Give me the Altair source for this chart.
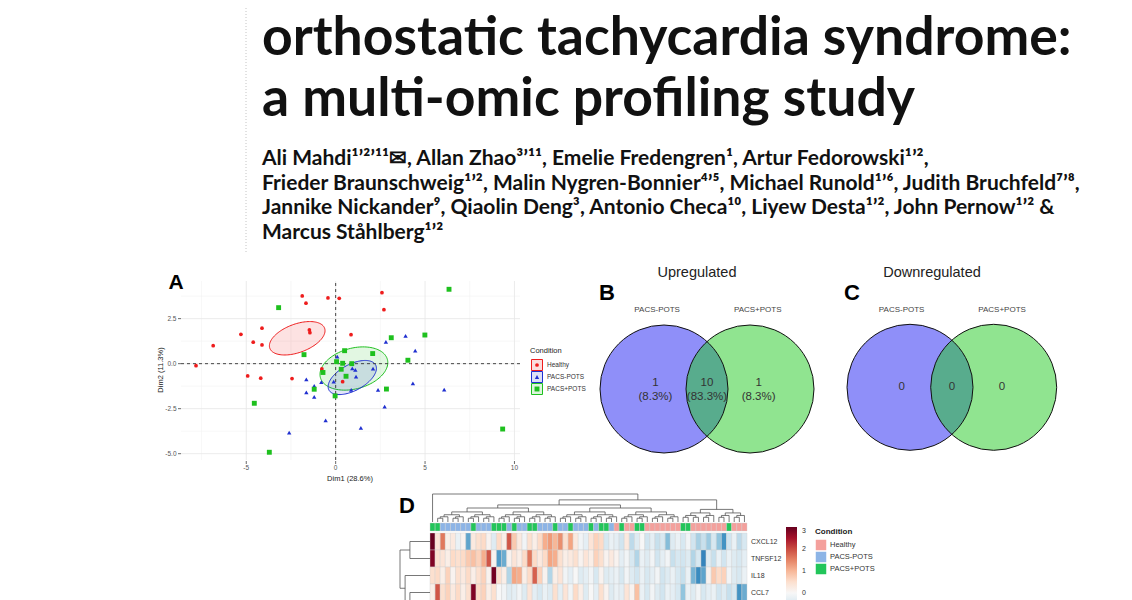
import altair as alt
import numpy as np
import pandas as pd

M = 8
def P(v):
    return v - M

W, H = 1116, 592
FF = "Liberation Sans"

# ---------------- header text ----------------
title_lines = ["orthostatic tachycardia syndrome:", "a multi-omic profiling study"]
author_lines = [
    "Ali Mahdi¹ʼ²ʼ¹¹✉, Allan Zhao³ʼ¹¹, Emelie Fredengren¹, Artur Fedorowski¹ʼ²,",
    "Frieder Braunschweig¹ʼ², Malin Nygren-Bonnier⁴ʼ⁵, Michael Runold¹ʼ⁶, Judith Bruchfeld⁷ʼ⁸,",
    "Jannike Nickander⁹, Qiaolin Deng³, Antonio Checa¹⁰, Liyew Desta¹ʼ², John Pernow¹ʼ² &",
    "Marcus Ståhlberg¹ʼ²",
]

# ---------------- PCA (panel A) ----------------
conditions = ["Healthy", "PACS-POTS", "PACS+POTS"]
cond_colors = ["#EE1C1C", "#1F2FD0", "#1EC01E"]
cond_light = ["#FBDCDC", "#DCE0F6", "#DDF5DD"]
cond_shapes = ["circle", "triangle-up", "square"]
cond_sizes = [14, 24, 15]

healthy_x = [-7.81, -6.85, -5.30, -4.61, -4.12, -4.12, -4.92, -4.19, -2.44, -1.87,
             -1.66, -1.47, -1.44, -0.43, 0.20, 0.86, -0.77, 0.39, 2.59, 2.70]
healthy_y = [-0.11, 1.00, 1.63, 1.19, 1.97, 1.04, -0.68, -0.81, -0.83, 3.76,
             3.36, 1.87, 1.72, 3.65, 3.63, 1.61, -0.29, -1.00, 3.94, 3.00]
pots_x = [0.09, 2.81, 3.91, 4.45, 2.09, 1.10, 1.14, 0.87, 2.37, 4.32, 6.07,
          2.74, 1.41, -1.64, -1.20, -0.80, -0.11, -1.64, -1.20, -0.56, -2.60, 0.93]
pots_y = [0.39, 1.21, 1.54, 0.72, -0.28, -0.35, -0.72, -1.46, -1.46, -1.09, -1.44,
          -2.39, -3.57, -0.87, -1.24, -1.02, -1.00, -1.59, -1.85, -3.15, -3.83, -0.26]
ppots_x = [-3.19, -1.77, 0.50, 6.34, 3.11, 4.99, 2.07, 4.04, 0.90, 0.05,
           0.39, 0.31, -0.71, 0.58, -1.20, -0.03, -4.55, -3.71, 2.84, 9.34]
ppots_y = [3.11, 0.50, 0.72, 4.13, 1.44, 1.59, 0.56, 0.19, 0.00, 0.11,
           0.02, -0.31, -0.49, -0.70, -1.42, -1.79, -2.20, -4.92, -1.41, -3.63]

# ellipse parameters (centre x, centre y, semi-axis a, semi-axis b, angle deg)
ell_cond = ["Healthy", "PACS+POTS", "PACS-POTS"]
ell_cx = [-2.15, 1.02, 0.93]
ell_cy = [1.41, -0.27, -0.77]
ell_a = [1.63, 1.94, 1.48]
ell_b = [0.79, 1.13, 0.73]
ell_ang = [20, 15, 28]

x_major = [-5, 0, 5, 10]
x_major_lab = ["-5", "0", "5", "10"]
x_minor = [-7.5, -2.5, 2.5, 7.5]
y_major = [-5, -2.5, 0, 2.5]
y_major_lab = ["-5.0", "-2.5", "0.0", "2.5"]
y_minor = [-3.75, -1.25, 1.25, 3.75]

PCA_XD = [-8.65, 10.31]
PCA_YD = [-5.35, 4.59]

# ---------------- Venn (panels B, C) ----------------
venn_sets = ["PACS-POTS", "PACS+POTS"]
venn_pos = [0, 1]
venn_fill = ["#1F1FF3", "#22C922"]
region_pos = [-0.1, 0.5, 1.1]
up_counts = ["1", "10", "1"]
up_pct = ["(8.3%)", "(83.3%)", "(8.3%)"]
down_counts = ["0", "0", "0"]

# ---------------- Heatmap (panel D) ----------------
genes = ["CXCL12", "TNFSF12", "IL18", "CCL7"]
col_codes = "GGBBBBBBGBBBGGGBGBBGGBBBGBBGBBBGBGGBRGRRGGRRRRRRRGGRRRRRRRGRRR"
code_name = {"R": "Healthy", "B": "PACS-POTS", "G": "PACS+POTS"}
ann_colors = ["#F4A09C", "#8CB4E6", "#22C55A"]
cxcl12 = [3.0, 0.4, 1.6, 0.2, 0.3, -0.2, 0.1, -1.6, 0.3, 0.5, 0.6, 0.1, -0.4, 0.6, 0.2, 1.9,
          0.8, 0.3, -0.1, 0.5, 0.2, 0.6, 1.1, 1.3, 1.0, 1.4, 0.5, 1.2, 0.3, -0.1, -0.3, 0.4,
          0.7, 0.6, -0.5, -0.2, -0.3, -0.6, 0.3, -0.8, -0.4, 0.0, -0.6, -0.3, -0.7, -0.5,
          -1.3, -0.4, -0.2, -0.5, -0.1, -0.6, -1.0, -0.7, -1.1, -0.5, -1.2, -1.8, -0.6, -0.2, -0.8, -0.5]
tnfsf12 = [2.8, 0.5, 0.4, 0.2, 0.6, 0.5, 0.6, 0.8, 0.9, 0.7, 1.1, 1.9, 0.1, -1.7, -1.5, 0.1,
           0.4, 0.2, 0.6, 1.6, 0.6, 0.3, 0.6, 1.2, 1.1, 0.5, 0.2, 0.3, 0.5, 0.1, 0.4, 0.2,
           0.7, 0.5, 0.1, 0.3, 0.1, -0.3, -0.1, -0.5, -0.9, -0.2, -0.4, -0.1, -0.6, -0.3,
           -0.1, -0.7, -0.5, -0.6, -0.4, -0.9, -0.5, -2.0, -0.4, -0.7, -0.2, -0.6, -0.2, -0.4, -0.5, -0.3]
il18 = [0.5, 0.6, 0.2, 0.7, 0.1, 0.5, 0.3, 0.6, 0.2, 0.5, 0.7, 0.1, 2.9, 0.5, 0.2, -0.9,
        1.2, 1.1, 0.2, 0.6, 1.8, 0.7, 0.1, -0.9, 0.2, 0.4, -0.1, -0.3, 0.0, -0.4, -0.3, -0.1,
        -0.5, 0.1, -0.4, -0.3, -0.2, -0.5, -0.1, -0.4, -0.6, -0.2, -0.5, -0.3, -0.1, -0.6,
        -0.4, -0.2, -0.5, -0.7, -0.2, -1.4, -1.9, -1.6, 0.1, 0.8, 0.6, 0.7, -0.1, -0.4, -0.5, -0.2]
ccl7 = [0.2, 1.9, 0.5, 0.7, 0.3, 0.6, 0.2, 0.5, 2.8, 0.6, 0.7, 0.2, 0.5, 0.0, -0.1, -0.4,
        -0.3, -0.1, -0.4, 0.4, -0.3, -0.5, -0.2, -0.4, 0.5, -0.3, 0.4, -0.1, 0.6, 0.2, -0.4, 0.0,
        -0.3, 0.5, 0.1, -0.4, -0.2, -0.3, 0.4, 0.1, 0.9, -0.2, -0.5, -0.1, -0.4, -0.6,
        -0.2, -0.3, -0.5, -1.2, -0.2, -0.4, -0.1, -0.5, -0.3, -0.2, -0.6, -0.4, -0.7, -0.5, -1.8, -1.5]
heat_rows = [cxcl12, tnfsf12, il18, ccl7]
RDBU = ["#053061", "#2166ac", "#4393c3", "#92c5de", "#d1e5f0", "#f7f7f7",
        "#fddbc7", "#f4a582", "#d6604d", "#b2182b", "#67001f"]
legend_vals = [0, 1, 2, 3]

# row dendrogram segments (height, row index)
rd_h1 = [0, 0, 0.67, 0.67, 0, 0, 0, 0.67, 0.67, 0.83, 0.83, 1.0]
rd_h2 = [0.67, 0.67, 0.67, 1.0, 0.83, 0.67, 0.67, 0.67, 0.83, 0.83, 1.0, 1.0]
rd_r1 = [0, 1, 0, 0.5, 2, 3, 4, 3, 3.5, 2, 2.75, 0.5]
rd_r2 = [0, 1, 1, 0.5, 2, 3, 4, 4, 3.5, 3.5, 2.75, 2.75]

# ======================================================================
layers = []
one = pd.DataFrame({"a": [0]})


def txt(s, x, y, size, font=FF, **kw):
    return alt.Chart(pd.DataFrame({"t": [s]})).mark_text(
        fontSize=size, font=font, **kw
    ).encode(x=alt.value(P(x)), y=alt.value(P(y)), text="t:N")


# header
layers.append(alt.Chart(one).mark_rule(color="#c4c4c4", strokeDash=[1, 2], strokeWidth=1).encode(
    x=alt.value(P(246)), y=alt.value(0), y2=alt.value(P(252))))
layers.append(alt.Chart(pd.DataFrame({"i": [0, 1], "t": title_lines})).mark_text(
    align="left", baseline="alphabetic", font="Lato", fontSize=53.5, fontWeight="bold", color="#111"
).encode(x=alt.value(P(262)),
         y=alt.Y("i:Q", scale=alt.Scale(domain=[0, 1], range=[P(55), P(116)], nice=False, zero=False), axis=None),
         text="t:N"))
layers.append(alt.Chart(pd.DataFrame({"i": [0, 1, 2, 3], "t": author_lines})).mark_text(
    align="left", baseline="alphabetic", font="Lato", fontSize=21, fontWeight="bold", color="#111"
).encode(x=alt.value(P(262)),
         y=alt.Y("i:Q", scale=alt.Scale(domain=[0, 3], range=[P(165), P(239)], nice=False, zero=False), axis=None),
         text="t:N"))

# ---------------- PCA ----------------
xs = alt.Scale(domain=PCA_XD, range=[P(181), P(520)], nice=False, zero=False)
ys = alt.Scale(domain=PCA_YD, range=[P(460), P(281)], nice=False, zero=False)


def vgrid(vals, color, w):
    df = pd.DataFrame({"v": vals, "lo": PCA_YD[0], "hi": PCA_YD[1]})
    return alt.Chart(df).mark_rule(color=color, strokeWidth=w).encode(
        x=alt.X("v:Q", scale=xs, axis=None),
        y=alt.Y("lo:Q", scale=ys, axis=None), y2="hi:Q")


def hgrid(vals, color, w):
    df = pd.DataFrame({"v": vals, "lo": PCA_XD[0], "hi": PCA_XD[1]})
    return alt.Chart(df).mark_rule(color=color, strokeWidth=w).encode(
        y=alt.Y("v:Q", scale=ys, axis=None),
        x=alt.X("lo:Q", scale=xs, axis=None), x2="hi:Q")


layers += [vgrid(x_minor, "#f2f2f2", 0.6), hgrid(y_minor, "#f2f2f2", 0.6),
           vgrid(x_major, "#e6e6e6", 0.8), hgrid(y_major, "#e6e6e6", 0.8)]

for c, cx, cy, a, b, ang in zip(ell_cond, ell_cx, ell_cy, ell_a, ell_b, ell_ang):
    t = np.linspace(0, 2 * np.pi, 121)
    th = np.deg2rad(ang)
    ex = cx + a * np.cos(t) * np.cos(th) - b * np.sin(t) * np.sin(th)
    ey = cy + a * np.cos(t) * np.sin(th) + b * np.sin(t) * np.cos(th)
    col = cond_colors[conditions.index(c)]
    layers.append(alt.Chart(pd.DataFrame({"ex": ex, "ey": ey, "k": np.arange(len(t))})).mark_line(
        stroke=col, strokeWidth=1, fill=col, fillOpacity=0.13
    ).encode(x=alt.X("ex:Q", scale=xs, axis=None), y=alt.Y("ey:Q", scale=ys, axis=None), order="k:Q"))

# dashed zero lines
layers.append(alt.Chart(pd.DataFrame({"v": [0], "lo": [PCA_YD[0]], "hi": [PCA_YD[1]]})).mark_rule(
    color="#333", strokeDash=[3, 3], strokeWidth=0.9).encode(
    x=alt.X("v:Q", scale=xs, axis=None), y=alt.Y("lo:Q", scale=ys, axis=None), y2="hi:Q"))
layers.append(alt.Chart(pd.DataFrame({"v": [0], "lo": [PCA_XD[0]], "hi": [PCA_XD[1]]})).mark_rule(
    color="#333", strokeDash=[3, 3], strokeWidth=0.9).encode(
    y=alt.Y("v:Q", scale=ys, axis=None), x=alt.X("lo:Q", scale=xs, axis=None), x2="hi:Q"))

pca_df = pd.DataFrame({
    "x": healthy_x + pots_x + ppots_x,
    "y": healthy_y + pots_y + ppots_y,
    "cond": ["Healthy"] * len(healthy_x) + ["PACS-POTS"] * len(pots_x) + ["PACS+POTS"] * len(ppots_x),
})
layers.append(alt.Chart(pca_df).mark_point(filled=True, opacity=1).encode(
    x=alt.X("x:Q", scale=xs, axis=None), y=alt.Y("y:Q", scale=ys, axis=None),
    color=alt.Color("cond:N", scale=alt.Scale(domain=conditions, range=cond_colors), legend=None),
    shape=alt.Shape("cond:N", scale=alt.Scale(domain=conditions, range=cond_shapes), legend=None),
    size=alt.Size("cond:N", scale=alt.Scale(domain=conditions, range=cond_sizes), legend=None)))

# axes ticks & labels
layers.append(alt.Chart(pd.DataFrame({"v": x_major})).mark_rule(color="#444", strokeWidth=0.8).encode(
    x=alt.X("v:Q", scale=xs, axis=None), y=alt.value(P(461)), y2=alt.value(P(464))))
layers.append(alt.Chart(pd.DataFrame({"v": x_major, "t": x_major_lab})).mark_text(
    baseline="top", fontSize=6.5, font=FF, color="#555").encode(
    x=alt.X("v:Q", scale=xs, axis=None), y=alt.value(P(465)), text="t:N"))
layers.append(alt.Chart(pd.DataFrame({"v": y_major})).mark_rule(color="#444", strokeWidth=0.8).encode(
    y=alt.Y("v:Q", scale=ys, axis=None), x=alt.value(P(178)), x2=alt.value(P(181))))
layers.append(alt.Chart(pd.DataFrame({"v": y_major, "t": y_major_lab})).mark_text(
    align="right", baseline="middle", fontSize=6.5, font=FF, color="#555").encode(
    y=alt.Y("v:Q", scale=ys, axis=None), x=alt.value(P(176.5)), text="t:N"))
layers.append(txt("Dim1 (28.6%)", 350, 479, 7.5, color="#222", baseline="middle"))
layers.append(txt("Dim2 (11.3%)", 161, 370, 7.5, color="#222", baseline="middle", angle=270))
layers.append(txt("A", 176, 283, 21, fontWeight="bold", color="#000", baseline="middle"))

# PCA legend
leg_df = pd.DataFrame({"cond": conditions, "i": [0, 1, 2]})
leg_y = alt.Y("i:Q", scale=alt.Scale(domain=[0, 2], range=[P(365), P(389)], nice=False, zero=False), axis=None)
layers.append(txt("Condition", 530, 351, 7.5, color="#222", align="left", baseline="middle"))
layers.append(alt.Chart(leg_df).mark_point(shape="square", filled=True, opacity=1, size=121, strokeWidth=1).encode(
    x=alt.value(P(537)), y=leg_y,
    fill=alt.Fill("cond:N", scale=alt.Scale(domain=conditions, range=cond_light), legend=None),
    stroke=alt.Stroke("cond:N", scale=alt.Scale(domain=conditions, range=cond_colors), legend=None)))
layers.append(alt.Chart(leg_df).mark_point(filled=True, opacity=1).encode(
    x=alt.value(P(537)), y=leg_y,
    color=alt.Color("cond:N", scale=alt.Scale(domain=conditions, range=cond_colors), legend=None),
    shape=alt.Shape("cond:N", scale=alt.Scale(domain=conditions, range=cond_shapes), legend=None),
    size=alt.Size("cond:N", scale=alt.Scale(domain=conditions, range=cond_sizes), legend=None)))
layers.append(alt.Chart(leg_df).mark_text(align="left", baseline="middle", fontSize=6.5, font=FF, color="#333").encode(
    x=alt.value(P(547)), y=leg_y, text="cond:N"))


# ---------------- Venn diagrams ----------------
def venn(cx0, cx1, cy, r, counts, pcts, title, title_x, letter, letter_x, lab_xs):
    vx = alt.Scale(domain=[0, 1], range=[P(cx0), P(cx1)], nice=False, zero=False)
    vy = alt.Scale(domain=[-1, 1], range=[P(cy + r), P(cy - r)], nice=False, zero=False)
    size = (2 * r) ** 2
    df = pd.DataFrame({"set": venn_sets, "x": venn_pos, "y": [0, 0]})
    out = []
    out.append(alt.Chart(df).mark_point(shape="circle", filled=True, opacity=1, fillOpacity=0.5,
                                        strokeOpacity=0, size=size).encode(
        x=alt.X("x:Q", scale=vx, axis=None), y=alt.Y("y:Q", scale=vy, axis=None),
        fill=alt.Fill("set:N", scale=alt.Scale(domain=venn_sets, range=venn_fill), legend=None)))
    out.append(alt.Chart(df).mark_point(shape="circle", filled=False, opacity=1, stroke="#111",
                                        strokeWidth=1, size=size).encode(
        x=alt.X("x:Q", scale=vx, axis=None), y=alt.Y("y:Q", scale=vy, axis=None)))
    if pcts is None:
        rdf = pd.DataFrame({"x": region_pos, "y": [0.0] * 3, "t": counts})
        out.append(alt.Chart(rdf).mark_text(fontSize=11.5, font=FF, color="#333", baseline="middle").encode(
            x=alt.X("x:Q", scale=vx, axis=None), y=alt.Y("y:Q", scale=vy, axis=None), text="t:N"))
    else:
        rdf = pd.DataFrame({"x": region_pos * 2, "y": [0.1] * 3 + [-0.13] * 3, "t": counts + pcts})
        out.append(alt.Chart(rdf).mark_text(fontSize=11.5, font=FF, color="#333", baseline="middle").encode(
            x=alt.X("x:Q", scale=vx, axis=None), y=alt.Y("y:Q", scale=vy, axis=None), text="t:N"))
    ldf = pd.DataFrame({"x": lab_xs, "y": [1.23, 1.23], "t": venn_sets})
    out.append(alt.Chart(ldf).mark_text(fontSize=8, font=FF, color="#444", baseline="middle").encode(
        x=alt.X("x:Q", scale=vx, axis=None), y=alt.Y("y:Q", scale=vy, axis=None), text="t:N"))
    out.append(txt(title, title_x, 273, 14.5, color="#222", baseline="middle"))
    out.append(txt(letter, letter_x, 293, 22, fontWeight="bold", color="#000", baseline="middle"))
    return out


layers += venn(664, 750, 389, 64, up_counts, up_pct, "Upregulated", 697, "B", 607, [-0.08, 1.09])
layers += venn(910, 993.7, 387.3, 63, down_counts, None, "Downregulated", 932, "C", 852, [-0.1, 1.1])

# ---------------- Heatmap ----------------
ncol = len(col_codes)
hx = alt.Scale(domain=list(range(ncol)), range=[P(430), P(747)], paddingInner=0, paddingOuter=0)
hy = alt.Scale(domain=genes, range=[P(533), P(533 + 17 * len(genes))], paddingInner=0, paddingOuter=0)
heat_df = pd.DataFrame([{"col": j, "gene": g, "v": row[j]}
                        for g, row in zip(genes, heat_rows) for j in range(ncol)])
layers.append(alt.Chart(heat_df).mark_rect(stroke="#cfcfcf", strokeWidth=0.4).encode(
    x=alt.X("col:O", scale=hx, axis=None), y=alt.Y("gene:N", scale=hy, axis=None),
    color=alt.Color("v:Q", scale=alt.Scale(domain=[-3, 3], range=RDBU, nice=False, zero=False),
                    legend=alt.Legend(orient="none", legendX=P(786), legendY=P(527), direction="vertical",
                                      gradientLength=132, gradientThickness=11, title=None,
                                      values=legend_vals, labelFontSize=7, labelFont=FF,
                                      labelColor="#333", gradientStrokeWidth=0, labelOffset=5))))
ann_df = pd.DataFrame({"col": list(range(ncol)), "cond": [code_name[c] for c in col_codes]})
layers.append(alt.Chart(ann_df).mark_rect(stroke="#cfcfcf", strokeWidth=0.4).encode(
    x=alt.X("col:O", scale=hx, axis=None), y=alt.value(P(523)), y2=alt.value(P(531)),
    fill=alt.Fill("cond:N", scale=alt.Scale(domain=conditions, range=ann_colors), legend=None)))
layers.append(alt.Chart(pd.DataFrame({"gene": genes})).mark_text(
    align="left", baseline="middle", fontSize=7, font=FF, color="#333").encode(
    x=alt.value(P(751)), y=alt.Y("gene:N", scale=hy, axis=None), text="gene:N"))


# column dendrogram
def build(lo, hi, h, decay=0.72):
    if lo == hi:
        return float(lo), 0.0, []
    mid = (lo + hi) // 2
    lx, lh, ls = build(lo, mid, h * decay)
    rx, rh, rs = build(mid + 1, hi, h * decay)
    return (lx + rx) / 2, h, ls + rs + [(lx, rx, h, h), (lx, lx, lh, h), (rx, rx, rh, h)]


def join(left, right, h):
    lx, lh, ls = left
    rx, rh, rs = right
    return (lx + rx) / 2, h, ls + rs + [(lx, rx, h, h), (lx, lx, lh, h), (rx, rx, rh, h)]


nodeB = join(build(1, 24, 0.5), build(25, 48, 0.5), 0.61)
nodeA = join(nodeB, build(49, 61, 0.45), 0.79)
root = join((0.0, 0.0, []), nodeA, 1.0)
seg = pd.DataFrame(root[2], columns=["x1", "x2", "h1", "h2"])
dx = alt.Scale(domain=[-0.5, ncol - 0.5], range=[P(430), P(747)], nice=False, zero=False)
dy = alt.Scale(domain=[0, 1], range=[P(522), P(494)], nice=False, zero=False)
layers.append(alt.Chart(seg).mark_rule(color="#555", strokeWidth=0.8).encode(
    x=alt.X("x1:Q", scale=dx, axis=None), x2="x2:Q",
    y=alt.Y("h1:Q", scale=dy, axis=None), y2="h2:Q"))

rseg = pd.DataFrame({"h1": rd_h1, "h2": rd_h2, "r1": rd_r1, "r2": rd_r2})
rx_s = alt.Scale(domain=[0, 1], range=[P(430), P(400)], nice=False, zero=False)
ry_s = alt.Scale(domain=[-0.5, 3.5], range=[P(533), P(601)], nice=False, zero=False)
layers.append(alt.Chart(rseg).mark_rule(color="#555", strokeWidth=0.8).encode(
    x=alt.X("h1:Q", scale=rx_s, axis=None), x2="h2:Q",
    y=alt.Y("r1:Q", scale=ry_s, axis=None), y2="r2:Q"))
layers.append(txt("D", 407, 506, 22, fontWeight="bold", color="#000", baseline="middle"))

# heatmap condition legend
hl_df = pd.DataFrame({"cond": conditions, "i": [0, 1, 2]})
hl_y = alt.Y("i:Q", scale=alt.Scale(domain=[0, 2], range=[P(545), P(569)], nice=False, zero=False), axis=None)
layers.append(txt("Condition", 815, 532, 8, fontWeight="bold", color="#222", align="left", baseline="middle"))
layers.append(alt.Chart(hl_df).mark_point(shape="square", filled=True, opacity=1, size=110).encode(
    x=alt.value(P(821)), y=hl_y,
    color=alt.Color("cond:N", scale=alt.Scale(domain=conditions, range=ann_colors), legend=None)))
layers.append(alt.Chart(hl_df).mark_text(align="left", baseline="middle", fontSize=7.5, font=FF, color="#333").encode(
    x=alt.value(P(830)), y=hl_y, text="cond:N"))

chart = alt.layer(*layers).resolve_scale(
    x="independent", y="independent", color="independent", fill="independent",
    stroke="independent", shape="independent", size="independent"
).properties(width=W, height=H, padding=0, autosize=alt.AutoSizeParams(type="none"),
             background="white").configure_view(stroke=None)

chart.save("out.html", embed_options={"renderer": "svg", "actions": False})
